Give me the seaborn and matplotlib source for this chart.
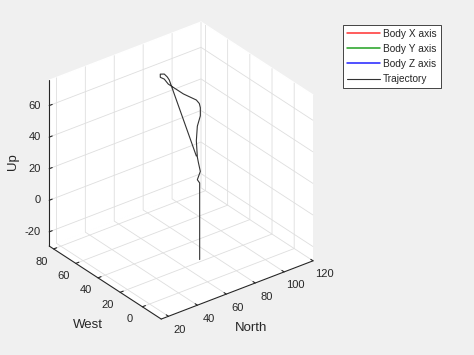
import numpy as np
import matplotlib
matplotlib.use("Agg")
import matplotlib.pyplot as plt
from matplotlib.ticker import NullFormatter
import seaborn as sns

# Trajectory (North, West, Up)
traj_north = [71.5, 71.5, 71.5, 71.5, 71.5, 71.5, 71.5, 71.5, 71.5, 71.5,
              71.5, 71.5, 71.5, 71.5, 71.5, 71.5, 71.5, 71.5, 71.5, 71.5,
              71.5, 71.5]
traj_west = [22.0, 22.0, 24.1, 21.4, 23.2, 24.1, 25.0, 24.1, 21.4, 21.4,
             22.3, 25.0, 36.7, 50.3, 53.9, 57.5, 57.5, 53.9, 51.2, 49.4,
             25.0, 25.0]
traj_up = [-29.0, 19.5, 20.6, 27.1, 32.1, 35.0, 44.9, 54.5, 62.3, 67.5,
           69.7, 70.7, 69.2, 69.2, 70.7, 70.2, 72.2, 73.9, 73.3, 72.2,
           35.2, 35.2]

north_lim = (15, 120)
west_lim = (-17, 84)
up_lim = (-29, 76)
north_ticks = [20, 40, 60, 80, 100, 120]
west_ticks = [0, 20, 40, 60, 80]
up_ticks = [-20, 0, 20, 40, 60]

legend_labels = ["Body X axis", "Body Y axis", "Body Z axis", "Trajectory"]
legend_colors = ["#ff3030", "#20a020", "#2020ff", "#000000"]

sns.set_style("white")
plt.rcParams['font.family'] = ['Liberation Sans', 'DejaVu Sans']
plt.rcParams['axes.unicode_minus'] = False

bg = "#f0f0f0"
txt = (0.15, 0.15, 0.15)
fig = plt.figure(figsize=(4.74, 3.55), dpi=100, facecolor=bg)
ax = fig.add_axes([-0.003, 0.006, 0.75, 1.0], projection='3d')
ax.set_facecolor(bg)
ax.set_proj_type('ortho')
ax.view_init(elev=30, azim=-127.5)

# empty body axes (legend only), then trajectory
for lab, col in zip(legend_labels[:3], legend_colors[:3]):
    ax.plot([], [], [], color=col, lw=1.1, label=lab)
ax.plot(traj_north, traj_west, traj_up, color="#333333", lw=0.8,
        label=legend_labels[3])

ax.set_xlim(*north_lim)
ax.set_ylim(*west_lim)
ax.set_zlim(*up_lim)
ax.set_xticks(north_ticks)
ax.set_yticks(west_ticks)
ax.set_zticks(up_ticks)
ax.set_box_aspect((north_lim[1] - north_lim[0], west_lim[1] - west_lim[0],
                   up_lim[1] - up_lim[0]), zoom=0.895)

for axis in (ax.xaxis, ax.yaxis, ax.zaxis):
    axis.set_pane_color((1, 1, 1, 1))
    axis.pane.set_edgecolor((1, 1, 1, 1))
    axis._axinfo['grid']['color'] = (0.87, 0.87, 0.87, 1)
    axis._axinfo['grid']['linewidth'] = 0.6
    axis._axinfo['tick']['inward_factor'] = 0.0
    axis._axinfo['tick']['outward_factor'] = 0.25
    axis.line.set_color(txt)
    axis.line.set_linewidth(0.8)
    axis.set_major_formatter(NullFormatter())
    axis.set_tick_params(label1On=False, label2On=False, colors=txt)
    axis.label.set_visible(False)
    axis.offsetText.set_visible(False)

# MATLAB-like tick label placement
for t in north_ticks:
    ax.text(t, west_lim[0] - 10, up_lim[0] - 4, str(t), fontsize=8,
            color=txt, ha="center", va="center")
for t in west_ticks:
    ax.text(north_lim[0] - 8.5, t, up_lim[0] - 5, str(t), fontsize=8,
            color=txt, ha="center", va="center")
for t in up_ticks:
    ax.text(north_lim[0] - 3.6, west_lim[1] + 2.6, t, str(t), fontsize=8,
            color=txt, ha="right", va="center")

fig.text(0.027, 0.544, "Up", rotation=90, fontsize=9.5, color=txt,
         ha="center", va="center")
fig.text(0.186, 0.085, "West", fontsize=9.5, color=txt,
         ha="center", va="center")
fig.text(0.529, 0.076, "North", fontsize=9.5, color=txt,
         ha="center", va="center")

leg = fig.legend(loc="upper left", bbox_to_anchor=(0.7236, 0.93),
                 fontsize=7.3, frameon=True, fancybox=False,
                 edgecolor="#262626", framealpha=1, handlelength=3.25,
                 labelspacing=0.5, borderpad=0.4, handletextpad=0.3,
                 borderaxespad=0)
leg.get_frame().set_linewidth(0.6)
for t in leg.get_texts():
    t.set_color(txt)

fig.savefig("out.png", dpi=100, facecolor=bg)
